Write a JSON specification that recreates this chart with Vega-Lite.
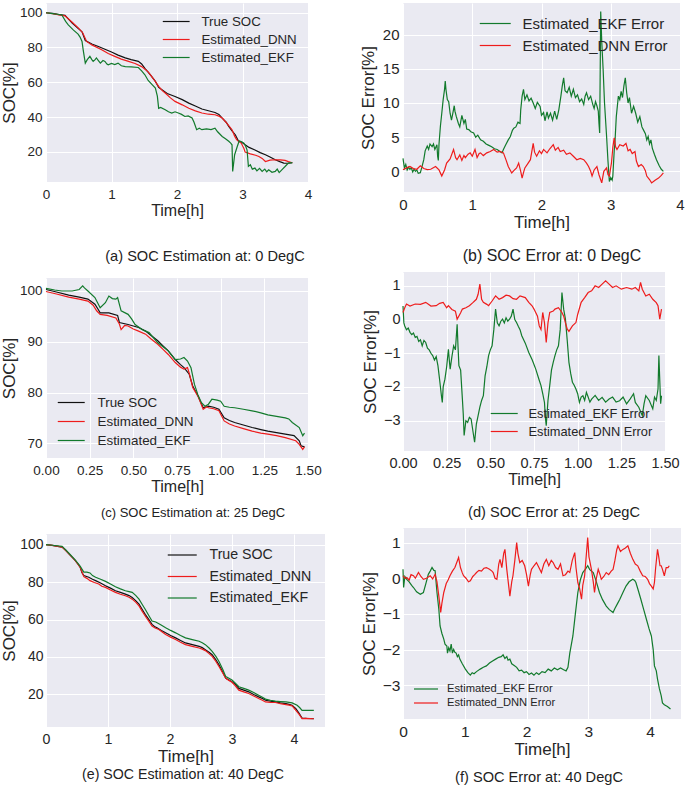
{
"$schema": "https://vega.github.io/schema/vega-lite/v6.json",
"padding": {"left": 0, "top": 3, "right": 0, "bottom": 0},
"background": "white",
"config": {
  "font": "Liberation Sans",
  "view": {"fill": "#EAEAF2", "stroke": null},
  "axis": {"domain": false, "ticks": false, "tickSize": 0, "gridColor": "#ffffff", "gridWidth": 1, "gridOpacity": 1, "labelColor": "#262626", "titleColor": "#262626", "labelFont": "Liberation Sans", "titleFont": "Liberation Sans", "titleFontWeight": "normal", "labelFlush": false, "labelOverlap": false},
  "legend": {"labelColor": "#262626", "labelFont": "Liberation Sans", "symbolStrokeWidth": 1.5, "padding": 0},
  "line": {"strokeWidth": 1.2, "clip": true},
  "title": {"color": "#222222", "fontWeight": "normal", "font": "Liberation Sans"}
},
"datasets": {
"a": [
{"s":"True SOC","t":0,"v":100},{"s":"True SOC","t":0.1,"v":99.6},{"s":"True SOC","t":0.2,"v":98.9},{"s":"True SOC","t":0.29,"v":98.5},{"s":"True SOC","t":0.4,"v":94},{"s":"True SOC","t":0.55,"v":89},{"s":"True SOC","t":0.6,"v":84},{"s":"True SOC","t":0.7,"v":82},{"s":"True SOC","t":0.8,"v":80.6},{"s":"True SOC","t":0.9,"v":79},{"s":"True SOC","t":1.0,"v":77.4},{"s":"True SOC","t":1.1,"v":75.6},{"s":"True SOC","t":1.21,"v":74},{"s":"True SOC","t":1.3,"v":73},{"s":"True SOC","t":1.41,"v":72},{"s":"True SOC","t":1.46,"v":70.5},{"s":"True SOC","t":1.51,"v":68},{"s":"True SOC","t":1.6,"v":64},{"s":"True SOC","t":1.67,"v":60.5},{"s":"True SOC","t":1.72,"v":57},{"s":"True SOC","t":1.77,"v":55.7},{"s":"True SOC","t":1.85,"v":53.5},{"s":"True SOC","t":1.97,"v":51.8},{"s":"True SOC","t":2.08,"v":50},{"s":"True SOC","t":2.18,"v":48},{"s":"True SOC","t":2.28,"v":46.3},{"s":"True SOC","t":2.38,"v":44.6},{"s":"True SOC","t":2.48,"v":43.6},{"s":"True SOC","t":2.58,"v":42.6},{"s":"True SOC","t":2.64,"v":41.5},{"s":"True SOC","t":2.69,"v":39.4},{"s":"True SOC","t":2.75,"v":37},{"s":"True SOC","t":2.79,"v":34.6},{"s":"True SOC","t":2.84,"v":32},{"s":"True SOC","t":2.89,"v":29.8},{"s":"True SOC","t":2.94,"v":26},{"s":"True SOC","t":2.99,"v":25.5},{"s":"True SOC","t":3.04,"v":24},{"s":"True SOC","t":3.1,"v":22.5},{"s":"True SOC","t":3.19,"v":21},{"s":"True SOC","t":3.27,"v":19.5},{"s":"True SOC","t":3.35,"v":18.3},{"s":"True SOC","t":3.42,"v":17},{"s":"True SOC","t":3.5,"v":15.4},{"s":"True SOC","t":3.57,"v":14.3},{"s":"True SOC","t":3.63,"v":13.5},{"s":"True SOC","t":3.7,"v":13.4},{"s":"True SOC","t":3.76,"v":13.7},
{"s":"Estimated_DNN","t":0,"v":100},{"s":"Estimated_DNN","t":0.1,"v":99.4},{"s":"Estimated_DNN","t":0.2,"v":98.8},{"s":"Estimated_DNN","t":0.29,"v":98.2},{"s":"Estimated_DNN","t":0.4,"v":94.5},{"s":"Estimated_DNN","t":0.5,"v":91},{"s":"Estimated_DNN","t":0.56,"v":88.5},{"s":"Estimated_DNN","t":0.62,"v":83.5},{"s":"Estimated_DNN","t":0.7,"v":81.5},{"s":"Estimated_DNN","t":0.85,"v":78.7},{"s":"Estimated_DNN","t":0.95,"v":76.5},{"s":"Estimated_DNN","t":1.05,"v":74.9},{"s":"Estimated_DNN","t":1.15,"v":73.3},{"s":"Estimated_DNN","t":1.26,"v":72},{"s":"Estimated_DNN","t":1.36,"v":70.8},{"s":"Estimated_DNN","t":1.46,"v":69},{"s":"Estimated_DNN","t":1.56,"v":66},{"s":"Estimated_DNN","t":1.64,"v":62},{"s":"Estimated_DNN","t":1.72,"v":57.6},{"s":"Estimated_DNN","t":1.78,"v":55},{"s":"Estimated_DNN","t":1.82,"v":53.8},{"s":"Estimated_DNN","t":1.9,"v":51},{"s":"Estimated_DNN","t":1.97,"v":49},{"s":"Estimated_DNN","t":2.08,"v":47},{"s":"Estimated_DNN","t":2.18,"v":45},{"s":"Estimated_DNN","t":2.28,"v":43.5},{"s":"Estimated_DNN","t":2.38,"v":42.3},{"s":"Estimated_DNN","t":2.48,"v":41.6},{"s":"Estimated_DNN","t":2.58,"v":41.3},{"s":"Estimated_DNN","t":2.64,"v":40.5},{"s":"Estimated_DNN","t":2.69,"v":39.4},{"s":"Estimated_DNN","t":2.76,"v":36.5},{"s":"Estimated_DNN","t":2.84,"v":32.7},{"s":"Estimated_DNN","t":2.88,"v":29},{"s":"Estimated_DNN","t":2.91,"v":27},{"s":"Estimated_DNN","t":2.94,"v":26},{"s":"Estimated_DNN","t":2.98,"v":25},{"s":"Estimated_DNN","t":3.02,"v":22},{"s":"Estimated_DNN","t":3.04,"v":19.8},{"s":"Estimated_DNN","t":3.12,"v":18.8},{"s":"Estimated_DNN","t":3.2,"v":18},{"s":"Estimated_DNN","t":3.25,"v":17.3},{"s":"Estimated_DNN","t":3.3,"v":16.2},{"s":"Estimated_DNN","t":3.35,"v":14.4},{"s":"Estimated_DNN","t":3.42,"v":15.2},{"s":"Estimated_DNN","t":3.5,"v":15.4},{"s":"Estimated_DNN","t":3.58,"v":15.3},{"s":"Estimated_DNN","t":3.65,"v":15},{"s":"Estimated_DNN","t":3.7,"v":14.3},{"s":"Estimated_DNN","t":3.76,"v":13.7},
{"s":"Estimated_EKF","t":0,"v":100},{"s":"Estimated_EKF","t":0.1,"v":99.5},{"s":"Estimated_EKF","t":0.2,"v":99},{"s":"Estimated_EKF","t":0.24,"v":98.8},{"s":"Estimated_EKF","t":0.3,"v":95},{"s":"Estimated_EKF","t":0.34,"v":93},{"s":"Estimated_EKF","t":0.42,"v":90},{"s":"Estimated_EKF","t":0.49,"v":87.7},{"s":"Estimated_EKF","t":0.52,"v":86},{"s":"Estimated_EKF","t":0.55,"v":83.5},{"s":"Estimated_EKF","t":0.57,"v":78},{"s":"Estimated_EKF","t":0.6,"v":71},{"s":"Estimated_EKF","t":0.63,"v":73},{"s":"Estimated_EKF","t":0.67,"v":74.9},{"s":"Estimated_EKF","t":0.7,"v":73},{"s":"Estimated_EKF","t":0.72,"v":72},{"s":"Estimated_EKF","t":0.75,"v":73},{"s":"Estimated_EKF","t":0.77,"v":74},{"s":"Estimated_EKF","t":0.8,"v":72.5},{"s":"Estimated_EKF","t":0.83,"v":71},{"s":"Estimated_EKF","t":0.87,"v":72.5},{"s":"Estimated_EKF","t":0.9,"v":72},{"s":"Estimated_EKF","t":0.93,"v":70.5},{"s":"Estimated_EKF","t":0.95,"v":70},{"s":"Estimated_EKF","t":1.0,"v":70.8},{"s":"Estimated_EKF","t":1.05,"v":70.2},{"s":"Estimated_EKF","t":1.1,"v":71},{"s":"Estimated_EKF","t":1.15,"v":69.5},{"s":"Estimated_EKF","t":1.21,"v":69},{"s":"Estimated_EKF","t":1.3,"v":68.8},{"s":"Estimated_EKF","t":1.41,"v":68.5},{"s":"Estimated_EKF","t":1.46,"v":66.5},{"s":"Estimated_EKF","t":1.51,"v":64.3},{"s":"Estimated_EKF","t":1.56,"v":61},{"s":"Estimated_EKF","t":1.62,"v":58.6},{"s":"Estimated_EKF","t":1.67,"v":56.6},{"s":"Estimated_EKF","t":1.7,"v":52},{"s":"Estimated_EKF","t":1.72,"v":45},{"s":"Estimated_EKF","t":1.75,"v":45.5},{"s":"Estimated_EKF","t":1.82,"v":44.2},{"s":"Estimated_EKF","t":1.87,"v":43},{"s":"Estimated_EKF","t":1.92,"v":42.3},{"s":"Estimated_EKF","t":1.97,"v":43},{"s":"Estimated_EKF","t":2.02,"v":42.3},{"s":"Estimated_EKF","t":2.07,"v":41.5},{"s":"Estimated_EKF","t":2.12,"v":40.3},{"s":"Estimated_EKF","t":2.17,"v":40.6},{"s":"Estimated_EKF","t":2.23,"v":39.4},{"s":"Estimated_EKF","t":2.26,"v":37},{"s":"Estimated_EKF","t":2.3,"v":32.7},{"s":"Estimated_EKF","t":2.34,"v":33.5},{"s":"Estimated_EKF","t":2.38,"v":32.7},{"s":"Estimated_EKF","t":2.45,"v":33.2},{"s":"Estimated_EKF","t":2.52,"v":32.8},{"s":"Estimated_EKF","t":2.58,"v":33.6},{"s":"Estimated_EKF","t":2.62,"v":31.5},{"s":"Estimated_EKF","t":2.69,"v":28.8},{"s":"Estimated_EKF","t":2.74,"v":27.5},{"s":"Estimated_EKF","t":2.79,"v":26},{"s":"Estimated_EKF","t":2.82,"v":25},{"s":"Estimated_EKF","t":2.84,"v":24},{"s":"Estimated_EKF","t":2.85,"v":8.7},{"s":"Estimated_EKF","t":2.88,"v":18.3},{"s":"Estimated_EKF","t":2.92,"v":23},{"s":"Estimated_EKF","t":2.95,"v":26.3},{"s":"Estimated_EKF","t":3.0,"v":25.5},{"s":"Estimated_EKF","t":3.02,"v":25},{"s":"Estimated_EKF","t":3.05,"v":23},{"s":"Estimated_EKF","t":3.07,"v":21},{"s":"Estimated_EKF","t":3.09,"v":11.6},{"s":"Estimated_EKF","t":3.12,"v":12.5},{"s":"Estimated_EKF","t":3.15,"v":10},{"s":"Estimated_EKF","t":3.19,"v":10.6},{"s":"Estimated_EKF","t":3.22,"v":9},{"s":"Estimated_EKF","t":3.26,"v":10.5},{"s":"Estimated_EKF","t":3.3,"v":8.7},{"s":"Estimated_EKF","t":3.34,"v":10},{"s":"Estimated_EKF","t":3.37,"v":8.5},{"s":"Estimated_EKF","t":3.4,"v":9.6},{"s":"Estimated_EKF","t":3.45,"v":8.2},{"s":"Estimated_EKF","t":3.5,"v":8.7},{"s":"Estimated_EKF","t":3.53,"v":10},{"s":"Estimated_EKF","t":3.56,"v":8},{"s":"Estimated_EKF","t":3.6,"v":9.6},{"s":"Estimated_EKF","t":3.65,"v":11.5},{"s":"Estimated_EKF","t":3.7,"v":13.5},{"s":"Estimated_EKF","t":3.76,"v":13.7}
],
"b": [
{"s":"Estimated_EKF Error","t":0,"v":1.9},{"s":"Estimated_EKF Error","t":0.02,"v":0.5},{"s":"Estimated_EKF Error","t":0.04,"v":1.0},{"s":"Estimated_EKF Error","t":0.06,"v":0.2},{"s":"Estimated_EKF Error","t":0.08,"v":0.6},{"s":"Estimated_EKF Error","t":0.1,"v":0.3},{"s":"Estimated_EKF Error","t":0.12,"v":0.5},{"s":"Estimated_EKF Error","t":0.14,"v":-0.1},{"s":"Estimated_EKF Error","t":0.16,"v":0.3},{"s":"Estimated_EKF Error","t":0.18,"v":0},{"s":"Estimated_EKF Error","t":0.2,"v":0.2},{"s":"Estimated_EKF Error","t":0.22,"v":-0.3},{"s":"Estimated_EKF Error","t":0.25,"v":-0.2},{"s":"Estimated_EKF Error","t":0.27,"v":0.5},{"s":"Estimated_EKF Error","t":0.3,"v":1.7},{"s":"Estimated_EKF Error","t":0.32,"v":3.0},{"s":"Estimated_EKF Error","t":0.35,"v":3.7},{"s":"Estimated_EKF Error","t":0.37,"v":3.2},{"s":"Estimated_EKF Error","t":0.39,"v":4.0},{"s":"Estimated_EKF Error","t":0.42,"v":3.6},{"s":"Estimated_EKF Error","t":0.44,"v":4.0},{"s":"Estimated_EKF Error","t":0.46,"v":3.2},{"s":"Estimated_EKF Error","t":0.49,"v":3.9},{"s":"Estimated_EKF Error","t":0.5,"v":2.2},{"s":"Estimated_EKF Error","t":0.51,"v":1.6},{"s":"Estimated_EKF Error","t":0.52,"v":4},{"s":"Estimated_EKF Error","t":0.54,"v":6.6},{"s":"Estimated_EKF Error","t":0.56,"v":8.5},{"s":"Estimated_EKF Error","t":0.58,"v":10.5},{"s":"Estimated_EKF Error","t":0.6,"v":12},{"s":"Estimated_EKF Error","t":0.61,"v":13.2},{"s":"Estimated_EKF Error","t":0.62,"v":12},{"s":"Estimated_EKF Error","t":0.64,"v":10.5},{"s":"Estimated_EKF Error","t":0.66,"v":10.2},{"s":"Estimated_EKF Error","t":0.68,"v":8.5},{"s":"Estimated_EKF Error","t":0.7,"v":7.5},{"s":"Estimated_EKF Error","t":0.72,"v":8.5},{"s":"Estimated_EKF Error","t":0.74,"v":9.6},{"s":"Estimated_EKF Error","t":0.75,"v":8.8},{"s":"Estimated_EKF Error","t":0.77,"v":8},{"s":"Estimated_EKF Error","t":0.8,"v":7},{"s":"Estimated_EKF Error","t":0.82,"v":6.5},{"s":"Estimated_EKF Error","t":0.85,"v":8.2},{"s":"Estimated_EKF Error","t":0.88,"v":7},{"s":"Estimated_EKF Error","t":0.9,"v":7.6},{"s":"Estimated_EKF Error","t":0.92,"v":6.2},{"s":"Estimated_EKF Error","t":0.95,"v":6.1},{"s":"Estimated_EKF Error","t":0.98,"v":5.8},{"s":"Estimated_EKF Error","t":1.02,"v":5.6},{"s":"Estimated_EKF Error","t":1.05,"v":5.0},{"s":"Estimated_EKF Error","t":1.08,"v":5.3},{"s":"Estimated_EKF Error","t":1.12,"v":4.6},{"s":"Estimated_EKF Error","t":1.16,"v":4.4},{"s":"Estimated_EKF Error","t":1.2,"v":4.0},{"s":"Estimated_EKF Error","t":1.24,"v":3.8},{"s":"Estimated_EKF Error","t":1.28,"v":3.6},{"s":"Estimated_EKF Error","t":1.32,"v":3.3},{"s":"Estimated_EKF Error","t":1.36,"v":3.2},{"s":"Estimated_EKF Error","t":1.4,"v":2.9},{"s":"Estimated_EKF Error","t":1.43,"v":2.7},{"s":"Estimated_EKF Error","t":1.45,"v":3.2},{"s":"Estimated_EKF Error","t":1.48,"v":3.8},{"s":"Estimated_EKF Error","t":1.52,"v":4.6},{"s":"Estimated_EKF Error","t":1.55,"v":5.1},{"s":"Estimated_EKF Error","t":1.58,"v":6},{"s":"Estimated_EKF Error","t":1.6,"v":6.3},{"s":"Estimated_EKF Error","t":1.63,"v":6.5},{"s":"Estimated_EKF Error","t":1.66,"v":7.2},{"s":"Estimated_EKF Error","t":1.69,"v":7.0},{"s":"Estimated_EKF Error","t":1.7,"v":9},{"s":"Estimated_EKF Error","t":1.72,"v":11},{"s":"Estimated_EKF Error","t":1.74,"v":12},{"s":"Estimated_EKF Error","t":1.76,"v":10.5},{"s":"Estimated_EKF Error","t":1.79,"v":11.2},{"s":"Estimated_EKF Error","t":1.82,"v":10.3},{"s":"Estimated_EKF Error","t":1.85,"v":10.7},{"s":"Estimated_EKF Error","t":1.88,"v":10},{"s":"Estimated_EKF Error","t":1.91,"v":9.2},{"s":"Estimated_EKF Error","t":1.94,"v":10.1},{"s":"Estimated_EKF Error","t":1.98,"v":9.5},{"s":"Estimated_EKF Error","t":2.0,"v":8.2},{"s":"Estimated_EKF Error","t":2.03,"v":8.6},{"s":"Estimated_EKF Error","t":2.05,"v":7.4},{"s":"Estimated_EKF Error","t":2.08,"v":8.7},{"s":"Estimated_EKF Error","t":2.1,"v":7.8},{"s":"Estimated_EKF Error","t":2.13,"v":8.5},{"s":"Estimated_EKF Error","t":2.16,"v":7.5},{"s":"Estimated_EKF Error","t":2.19,"v":8.8},{"s":"Estimated_EKF Error","t":2.22,"v":7.6},{"s":"Estimated_EKF Error","t":2.25,"v":9},{"s":"Estimated_EKF Error","t":2.28,"v":11},{"s":"Estimated_EKF Error","t":2.3,"v":12.5},{"s":"Estimated_EKF Error","t":2.32,"v":13.7},{"s":"Estimated_EKF Error","t":2.34,"v":11.8},{"s":"Estimated_EKF Error","t":2.37,"v":11.5},{"s":"Estimated_EKF Error","t":2.4,"v":12.3},{"s":"Estimated_EKF Error","t":2.43,"v":11},{"s":"Estimated_EKF Error","t":2.46,"v":12},{"s":"Estimated_EKF Error","t":2.49,"v":10.8},{"s":"Estimated_EKF Error","t":2.52,"v":11.2},{"s":"Estimated_EKF Error","t":2.55,"v":10.2},{"s":"Estimated_EKF Error","t":2.58,"v":10.6},{"s":"Estimated_EKF Error","t":2.61,"v":9.8},{"s":"Estimated_EKF Error","t":2.63,"v":11},{"s":"Estimated_EKF Error","t":2.65,"v":11.5},{"s":"Estimated_EKF Error","t":2.68,"v":10.5},{"s":"Estimated_EKF Error","t":2.71,"v":11},{"s":"Estimated_EKF Error","t":2.74,"v":9.8},{"s":"Estimated_EKF Error","t":2.76,"v":9.2},{"s":"Estimated_EKF Error","t":2.78,"v":10.2},{"s":"Estimated_EKF Error","t":2.8,"v":9.6},{"s":"Estimated_EKF Error","t":2.82,"v":8.8},{"s":"Estimated_EKF Error","t":2.83,"v":7},{"s":"Estimated_EKF Error","t":2.84,"v":5.6},{"s":"Estimated_EKF Error","t":2.855,"v":23.4},{"s":"Estimated_EKF Error","t":2.87,"v":19},{"s":"Estimated_EKF Error","t":2.89,"v":14.9},{"s":"Estimated_EKF Error","t":2.91,"v":10},{"s":"Estimated_EKF Error","t":2.94,"v":5.1},{"s":"Estimated_EKF Error","t":2.96,"v":1.5},{"s":"Estimated_EKF Error","t":2.98,"v":-1.5},{"s":"Estimated_EKF Error","t":3.0,"v":-0.9},{"s":"Estimated_EKF Error","t":3.02,"v":-1.3},{"s":"Estimated_EKF Error","t":3.03,"v":-0.7},{"s":"Estimated_EKF Error","t":3.05,"v":3},{"s":"Estimated_EKF Error","t":3.06,"v":4.1},{"s":"Estimated_EKF Error","t":3.08,"v":8},{"s":"Estimated_EKF Error","t":3.11,"v":11},{"s":"Estimated_EKF Error","t":3.13,"v":10.5},{"s":"Estimated_EKF Error","t":3.15,"v":11.7},{"s":"Estimated_EKF Error","t":3.17,"v":10.8},{"s":"Estimated_EKF Error","t":3.19,"v":12.5},{"s":"Estimated_EKF Error","t":3.21,"v":13.7},{"s":"Estimated_EKF Error","t":3.23,"v":11.5},{"s":"Estimated_EKF Error","t":3.25,"v":10},{"s":"Estimated_EKF Error","t":3.27,"v":10.8},{"s":"Estimated_EKF Error","t":3.3,"v":8.5},{"s":"Estimated_EKF Error","t":3.33,"v":9.5},{"s":"Estimated_EKF Error","t":3.36,"v":8.5},{"s":"Estimated_EKF Error","t":3.39,"v":7.2},{"s":"Estimated_EKF Error","t":3.42,"v":8},{"s":"Estimated_EKF Error","t":3.45,"v":6.5},{"s":"Estimated_EKF Error","t":3.47,"v":6.1},{"s":"Estimated_EKF Error","t":3.5,"v":5.5},{"s":"Estimated_EKF Error","t":3.52,"v":4.6},{"s":"Estimated_EKF Error","t":3.54,"v":5.1},{"s":"Estimated_EKF Error","t":3.56,"v":4.0},{"s":"Estimated_EKF Error","t":3.58,"v":4.6},{"s":"Estimated_EKF Error","t":3.6,"v":3.4},{"s":"Estimated_EKF Error","t":3.63,"v":2.5},{"s":"Estimated_EKF Error","t":3.66,"v":1.7},{"s":"Estimated_EKF Error","t":3.7,"v":0.8},{"s":"Estimated_EKF Error","t":3.73,"v":0.3},{"s":"Estimated_EKF Error","t":3.76,"v":0},
{"s":"Estimated_DNN Error","t":0,"v":0.24},{"s":"Estimated_DNN Error","t":0.05,"v":0.5},{"s":"Estimated_DNN Error","t":0.1,"v":0.7},{"s":"Estimated_DNN Error","t":0.15,"v":0.4},{"s":"Estimated_DNN Error","t":0.2,"v":0.3},{"s":"Estimated_DNN Error","t":0.25,"v":0.8},{"s":"Estimated_DNN Error","t":0.3,"v":0.4},{"s":"Estimated_DNN Error","t":0.35,"v":0.24},{"s":"Estimated_DNN Error","t":0.4,"v":0.3},{"s":"Estimated_DNN Error","t":0.47,"v":0.7},{"s":"Estimated_DNN Error","t":0.52,"v":0.2},{"s":"Estimated_DNN Error","t":0.56,"v":-0.7},{"s":"Estimated_DNN Error","t":0.6,"v":0.2},{"s":"Estimated_DNN Error","t":0.63,"v":1.2},{"s":"Estimated_DNN Error","t":0.68,"v":1.8},{"s":"Estimated_DNN Error","t":0.73,"v":3.2},{"s":"Estimated_DNN Error","t":0.76,"v":2.0},{"s":"Estimated_DNN Error","t":0.78,"v":1.7},{"s":"Estimated_DNN Error","t":0.82,"v":2.4},{"s":"Estimated_DNN Error","t":0.85,"v":1.6},{"s":"Estimated_DNN Error","t":0.88,"v":2.3},{"s":"Estimated_DNN Error","t":0.9,"v":2.0},{"s":"Estimated_DNN Error","t":0.94,"v":2.5},{"s":"Estimated_DNN Error","t":0.97,"v":2.7},{"s":"Estimated_DNN Error","t":1.0,"v":2.2},{"s":"Estimated_DNN Error","t":1.04,"v":3.2},{"s":"Estimated_DNN Error","t":1.07,"v":2.0},{"s":"Estimated_DNN Error","t":1.1,"v":2.6},{"s":"Estimated_DNN Error","t":1.12,"v":2.7},{"s":"Estimated_DNN Error","t":1.16,"v":2.3},{"s":"Estimated_DNN Error","t":1.21,"v":2.7},{"s":"Estimated_DNN Error","t":1.26,"v":2.9},{"s":"Estimated_DNN Error","t":1.31,"v":3.2},{"s":"Estimated_DNN Error","t":1.36,"v":2.8},{"s":"Estimated_DNN Error","t":1.4,"v":2.9},{"s":"Estimated_DNN Error","t":1.45,"v":2.7},{"s":"Estimated_DNN Error","t":1.49,"v":1.6},{"s":"Estimated_DNN Error","t":1.52,"v":0.7},{"s":"Estimated_DNN Error","t":1.57,"v":-0.24},{"s":"Estimated_DNN Error","t":1.6,"v":0.1},{"s":"Estimated_DNN Error","t":1.64,"v":0.5},{"s":"Estimated_DNN Error","t":1.67,"v":1.2},{"s":"Estimated_DNN Error","t":1.7,"v":0},{"s":"Estimated_DNN Error","t":1.72,"v":-1},{"s":"Estimated_DNN Error","t":1.74,"v":-0.2},{"s":"Estimated_DNN Error","t":1.76,"v":0.5},{"s":"Estimated_DNN Error","t":1.8,"v":1.1},{"s":"Estimated_DNN Error","t":1.84,"v":1.7},{"s":"Estimated_DNN Error","t":1.88,"v":4.1},{"s":"Estimated_DNN Error","t":1.9,"v":2.8},{"s":"Estimated_DNN Error","t":1.93,"v":2.2},{"s":"Estimated_DNN Error","t":1.97,"v":3.0},{"s":"Estimated_DNN Error","t":2.0,"v":2.6},{"s":"Estimated_DNN Error","t":2.03,"v":3.2},{"s":"Estimated_DNN Error","t":2.08,"v":2.7},{"s":"Estimated_DNN Error","t":2.12,"v":3.3},{"s":"Estimated_DNN Error","t":2.17,"v":3.9},{"s":"Estimated_DNN Error","t":2.2,"v":3.1},{"s":"Estimated_DNN Error","t":2.24,"v":3.5},{"s":"Estimated_DNN Error","t":2.27,"v":2.9},{"s":"Estimated_DNN Error","t":2.32,"v":3.1},{"s":"Estimated_DNN Error","t":2.36,"v":2.5},{"s":"Estimated_DNN Error","t":2.41,"v":2.7},{"s":"Estimated_DNN Error","t":2.46,"v":2.2},{"s":"Estimated_DNN Error","t":2.51,"v":1.7},{"s":"Estimated_DNN Error","t":2.56,"v":1.9},{"s":"Estimated_DNN Error","t":2.61,"v":1.7},{"s":"Estimated_DNN Error","t":2.65,"v":1.2},{"s":"Estimated_DNN Error","t":2.68,"v":0.7},{"s":"Estimated_DNN Error","t":2.71,"v":0},{"s":"Estimated_DNN Error","t":2.73,"v":-0.7},{"s":"Estimated_DNN Error","t":2.76,"v":0.2},{"s":"Estimated_DNN Error","t":2.8,"v":0.7},{"s":"Estimated_DNN Error","t":2.83,"v":-0.5},{"s":"Estimated_DNN Error","t":2.87,"v":-1.7},{"s":"Estimated_DNN Error","t":2.9,"v":0},{"s":"Estimated_DNN Error","t":2.94,"v":0.5},{"s":"Estimated_DNN Error","t":2.96,"v":-0.5},{"s":"Estimated_DNN Error","t":2.98,"v":-0.7},{"s":"Estimated_DNN Error","t":3.01,"v":1.2},{"s":"Estimated_DNN Error","t":3.03,"v":3.5},{"s":"Estimated_DNN Error","t":3.05,"v":4.9},{"s":"Estimated_DNN Error","t":3.07,"v":3.6},{"s":"Estimated_DNN Error","t":3.09,"v":3.2},{"s":"Estimated_DNN Error","t":3.13,"v":3.9},{"s":"Estimated_DNN Error","t":3.18,"v":3.7},{"s":"Estimated_DNN Error","t":3.22,"v":4.1},{"s":"Estimated_DNN Error","t":3.25,"v":3.0},{"s":"Estimated_DNN Error","t":3.28,"v":3.2},{"s":"Estimated_DNN Error","t":3.31,"v":2.6},{"s":"Estimated_DNN Error","t":3.35,"v":2.9},{"s":"Estimated_DNN Error","t":3.37,"v":1.5},{"s":"Estimated_DNN Error","t":3.4,"v":0.7},{"s":"Estimated_DNN Error","t":3.44,"v":1.0},{"s":"Estimated_DNN Error","t":3.47,"v":0.7},{"s":"Estimated_DNN Error","t":3.5,"v":0.1},{"s":"Estimated_DNN Error","t":3.52,"v":-0.7},{"s":"Estimated_DNN Error","t":3.56,"v":-1.2},{"s":"Estimated_DNN Error","t":3.59,"v":-1.7},{"s":"Estimated_DNN Error","t":3.64,"v":-1.3},{"s":"Estimated_DNN Error","t":3.69,"v":-1.0},{"s":"Estimated_DNN Error","t":3.73,"v":-0.6},{"s":"Estimated_DNN Error","t":3.76,"v":-0.24}
],
"c": [
{"s":"True SOC","t":0,"v":100.3},{"s":"True SOC","t":0.06,"v":99.8},{"s":"True SOC","t":0.13,"v":99.2},{"s":"True SOC","t":0.19,"v":98.8},{"s":"True SOC","t":0.24,"v":98.4},{"s":"True SOC","t":0.28,"v":97.4},{"s":"True SOC","t":0.3,"v":96.3},{"s":"True SOC","t":0.31,"v":95.7},{"s":"True SOC","t":0.36,"v":95.7},{"s":"True SOC","t":0.41,"v":95.2},{"s":"True SOC","t":0.42,"v":93.8},{"s":"True SOC","t":0.47,"v":93.4},{"s":"True SOC","t":0.53,"v":92.8},{"s":"True SOC","t":0.57,"v":92.1},{"s":"True SOC","t":0.6,"v":91.3},{"s":"True SOC","t":0.64,"v":90.2},{"s":"True SOC","t":0.67,"v":89.2},{"s":"True SOC","t":0.7,"v":88.2},{"s":"True SOC","t":0.74,"v":86.5},{"s":"True SOC","t":0.77,"v":85.5},{"s":"True SOC","t":0.79,"v":84.9},{"s":"True SOC","t":0.82,"v":83.6},{"s":"True SOC","t":0.84,"v":81.3},{"s":"True SOC","t":0.87,"v":79.3},{"s":"True SOC","t":0.9,"v":77},{"s":"True SOC","t":0.93,"v":77.3},{"s":"True SOC","t":0.96,"v":77.1},{"s":"True SOC","t":0.99,"v":76.7},{"s":"True SOC","t":1.02,"v":75},{"s":"True SOC","t":1.05,"v":74.5},{"s":"True SOC","t":1.08,"v":74.1},{"s":"True SOC","t":1.13,"v":73.6},{"s":"True SOC","t":1.18,"v":73.1},{"s":"True SOC","t":1.23,"v":72.7},{"s":"True SOC","t":1.27,"v":72.4},{"s":"True SOC","t":1.32,"v":72.1},{"s":"True SOC","t":1.37,"v":71.8},{"s":"True SOC","t":1.42,"v":71.5},{"s":"True SOC","t":1.45,"v":70.5},{"s":"True SOC","t":1.46,"v":69.5},{"s":"True SOC","t":1.48,"v":69.3},
{"s":"Estimated_DNN","t":0,"v":99.9},{"s":"Estimated_DNN","t":0.06,"v":99.4},{"s":"Estimated_DNN","t":0.13,"v":98.8},{"s":"Estimated_DNN","t":0.19,"v":98.4},{"s":"Estimated_DNN","t":0.24,"v":98},{"s":"Estimated_DNN","t":0.27,"v":97.2},{"s":"Estimated_DNN","t":0.29,"v":96.1},{"s":"Estimated_DNN","t":0.31,"v":95.4},{"s":"Estimated_DNN","t":0.35,"v":95.2},{"s":"Estimated_DNN","t":0.4,"v":94.7},{"s":"Estimated_DNN","t":0.42,"v":93.5},{"s":"Estimated_DNN","t":0.43,"v":92.4},{"s":"Estimated_DNN","t":0.45,"v":93.2},{"s":"Estimated_DNN","t":0.47,"v":93.1},{"s":"Estimated_DNN","t":0.5,"v":92.5},{"s":"Estimated_DNN","t":0.53,"v":92.1},{"s":"Estimated_DNN","t":0.57,"v":91.5},{"s":"Estimated_DNN","t":0.6,"v":90.6},{"s":"Estimated_DNN","t":0.64,"v":89.5},{"s":"Estimated_DNN","t":0.67,"v":88.5},{"s":"Estimated_DNN","t":0.7,"v":87.5},{"s":"Estimated_DNN","t":0.74,"v":85.9},{"s":"Estimated_DNN","t":0.77,"v":85.0},{"s":"Estimated_DNN","t":0.79,"v":84.6},{"s":"Estimated_DNN","t":0.81,"v":84.9},{"s":"Estimated_DNN","t":0.82,"v":83.8},{"s":"Estimated_DNN","t":0.84,"v":81},{"s":"Estimated_DNN","t":0.87,"v":79.3},{"s":"Estimated_DNN","t":0.9,"v":76.7},{"s":"Estimated_DNN","t":0.92,"v":77.2},{"s":"Estimated_DNN","t":0.93,"v":77},{"s":"Estimated_DNN","t":0.96,"v":76.8},{"s":"Estimated_DNN","t":0.99,"v":76.4},{"s":"Estimated_DNN","t":1.02,"v":74.4},{"s":"Estimated_DNN","t":1.05,"v":73.8},{"s":"Estimated_DNN","t":1.08,"v":73.4},{"s":"Estimated_DNN","t":1.13,"v":72.9},{"s":"Estimated_DNN","t":1.18,"v":72.4},{"s":"Estimated_DNN","t":1.23,"v":72.0},{"s":"Estimated_DNN","t":1.27,"v":71.8},{"s":"Estimated_DNN","t":1.32,"v":71.5},{"s":"Estimated_DNN","t":1.37,"v":71.1},{"s":"Estimated_DNN","t":1.43,"v":70.5},{"s":"Estimated_DNN","t":1.45,"v":69.8},{"s":"Estimated_DNN","t":1.47,"v":68.8},{"s":"Estimated_DNN","t":1.48,"v":69.3},
{"s":"Estimated_EKF","t":0,"v":100.5},{"s":"Estimated_EKF","t":0.05,"v":100.2},{"s":"Estimated_EKF","t":0.09,"v":100},{"s":"Estimated_EKF","t":0.15,"v":100},{"s":"Estimated_EKF","t":0.19,"v":100.3},{"s":"Estimated_EKF","t":0.21,"v":101},{"s":"Estimated_EKF","t":0.22,"v":100.6},{"s":"Estimated_EKF","t":0.24,"v":100},{"s":"Estimated_EKF","t":0.28,"v":98.7},{"s":"Estimated_EKF","t":0.31,"v":96.7},{"s":"Estimated_EKF","t":0.34,"v":97.7},{"s":"Estimated_EKF","t":0.36,"v":99},{"s":"Estimated_EKF","t":0.38,"v":98.5},{"s":"Estimated_EKF","t":0.4,"v":98.4},{"s":"Estimated_EKF","t":0.41,"v":98.7},{"s":"Estimated_EKF","t":0.43,"v":96.1},{"s":"Estimated_EKF","t":0.47,"v":95.4},{"s":"Estimated_EKF","t":0.49,"v":94.5},{"s":"Estimated_EKF","t":0.51,"v":93.4},{"s":"Estimated_EKF","t":0.55,"v":92.4},{"s":"Estimated_EKF","t":0.59,"v":91.8},{"s":"Estimated_EKF","t":0.64,"v":89.8},{"s":"Estimated_EKF","t":0.67,"v":89.0},{"s":"Estimated_EKF","t":0.7,"v":88.2},{"s":"Estimated_EKF","t":0.74,"v":86.5},{"s":"Estimated_EKF","t":0.77,"v":86.6},{"s":"Estimated_EKF","t":0.79,"v":86.9},{"s":"Estimated_EKF","t":0.81,"v":86.2},{"s":"Estimated_EKF","t":0.83,"v":84.9},{"s":"Estimated_EKF","t":0.85,"v":81.6},{"s":"Estimated_EKF","t":0.87,"v":79.5},{"s":"Estimated_EKF","t":0.89,"v":78},{"s":"Estimated_EKF","t":0.91,"v":77.3},{"s":"Estimated_EKF","t":0.93,"v":77.7},{"s":"Estimated_EKF","t":0.95,"v":78.7},{"s":"Estimated_EKF","t":0.98,"v":78.5},{"s":"Estimated_EKF","t":1.0,"v":78.3},{"s":"Estimated_EKF","t":1.02,"v":77.3},{"s":"Estimated_EKF","t":1.05,"v":77.1},{"s":"Estimated_EKF","t":1.08,"v":77},{"s":"Estimated_EKF","t":1.13,"v":76.7},{"s":"Estimated_EKF","t":1.18,"v":76.4},{"s":"Estimated_EKF","t":1.23,"v":76},{"s":"Estimated_EKF","t":1.27,"v":75.6},{"s":"Estimated_EKF","t":1.32,"v":75.3},{"s":"Estimated_EKF","t":1.37,"v":75},{"s":"Estimated_EKF","t":1.39,"v":74.8},{"s":"Estimated_EKF","t":1.41,"v":74.1},{"s":"Estimated_EKF","t":1.45,"v":73.1},{"s":"Estimated_EKF","t":1.47,"v":71.5},{"s":"Estimated_EKF","t":1.48,"v":72}
],
"d": [
{"s":"Estimated_EKF Error","t":0,"v":0.4},{"s":"Estimated_EKF Error","t":0.005,"v":-0.1},{"s":"Estimated_EKF Error","t":0.01,"v":-0.19},{"s":"Estimated_EKF Error","t":0.02,"v":-0.3},{"s":"Estimated_EKF Error","t":0.03,"v":-0.25},{"s":"Estimated_EKF Error","t":0.04,"v":-0.38},{"s":"Estimated_EKF Error","t":0.05,"v":-0.45},{"s":"Estimated_EKF Error","t":0.06,"v":-0.4},{"s":"Estimated_EKF Error","t":0.07,"v":-0.53},{"s":"Estimated_EKF Error","t":0.08,"v":-0.5},{"s":"Estimated_EKF Error","t":0.09,"v":-0.65},{"s":"Estimated_EKF Error","t":0.1,"v":-0.6},{"s":"Estimated_EKF Error","t":0.11,"v":-0.78},{"s":"Estimated_EKF Error","t":0.12,"v":-0.62},{"s":"Estimated_EKF Error","t":0.13,"v":-0.68},{"s":"Estimated_EKF Error","t":0.14,"v":-0.85},{"s":"Estimated_EKF Error","t":0.15,"v":-0.9},{"s":"Estimated_EKF Error","t":0.16,"v":-1.0},{"s":"Estimated_EKF Error","t":0.17,"v":-1.07},{"s":"Estimated_EKF Error","t":0.18,"v":-1.2},{"s":"Estimated_EKF Error","t":0.19,"v":-1.1},{"s":"Estimated_EKF Error","t":0.2,"v":-1.37},{"s":"Estimated_EKF Error","t":0.21,"v":-1.8},{"s":"Estimated_EKF Error","t":0.22,"v":-2.26},{"s":"Estimated_EKF Error","t":0.225,"v":-2.46},{"s":"Estimated_EKF Error","t":0.23,"v":-2.0},{"s":"Estimated_EKF Error","t":0.24,"v":-1.77},{"s":"Estimated_EKF Error","t":0.25,"v":-1.4},{"s":"Estimated_EKF Error","t":0.26,"v":-0.88},{"s":"Estimated_EKF Error","t":0.265,"v":-1.2},{"s":"Estimated_EKF Error","t":0.27,"v":-1.47},{"s":"Estimated_EKF Error","t":0.28,"v":-1.1},{"s":"Estimated_EKF Error","t":0.29,"v":-0.78},{"s":"Estimated_EKF Error","t":0.3,"v":-0.9},{"s":"Estimated_EKF Error","t":0.31,"v":-0.14},{"s":"Estimated_EKF Error","t":0.315,"v":-0.8},{"s":"Estimated_EKF Error","t":0.32,"v":-1.37},{"s":"Estimated_EKF Error","t":0.33,"v":-1.5},{"s":"Estimated_EKF Error","t":0.34,"v":-2.36},{"s":"Estimated_EKF Error","t":0.345,"v":-2.8},{"s":"Estimated_EKF Error","t":0.35,"v":-3.44},{"s":"Estimated_EKF Error","t":0.36,"v":-3.0},{"s":"Estimated_EKF Error","t":0.37,"v":-3.05},{"s":"Estimated_EKF Error","t":0.38,"v":-2.9},{"s":"Estimated_EKF Error","t":0.39,"v":-2.95},{"s":"Estimated_EKF Error","t":0.4,"v":-3.3},{"s":"Estimated_EKF Error","t":0.41,"v":-3.64},{"s":"Estimated_EKF Error","t":0.42,"v":-3.1},{"s":"Estimated_EKF Error","t":0.43,"v":-2.85},{"s":"Estimated_EKF Error","t":0.44,"v":-2.6},{"s":"Estimated_EKF Error","t":0.45,"v":-2.4},{"s":"Estimated_EKF Error","t":0.46,"v":-2.26},{"s":"Estimated_EKF Error","t":0.47,"v":-1.67},{"s":"Estimated_EKF Error","t":0.48,"v":-1.4},{"s":"Estimated_EKF Error","t":0.49,"v":-1.07},{"s":"Estimated_EKF Error","t":0.5,"v":-0.9},{"s":"Estimated_EKF Error","t":0.51,"v":-0.78},{"s":"Estimated_EKF Error","t":0.52,"v":-0.3},{"s":"Estimated_EKF Error","t":0.53,"v":0.31},{"s":"Estimated_EKF Error","t":0.54,"v":-0.1},{"s":"Estimated_EKF Error","t":0.55,"v":-0.19},{"s":"Estimated_EKF Error","t":0.56,"v":-0.05},{"s":"Estimated_EKF Error","t":0.57,"v":0.01},{"s":"Estimated_EKF Error","t":0.58,"v":-0.1},{"s":"Estimated_EKF Error","t":0.59,"v":0.05},{"s":"Estimated_EKF Error","t":0.6,"v":-0.05},{"s":"Estimated_EKF Error","t":0.61,"v":0.01},{"s":"Estimated_EKF Error","t":0.62,"v":0.1},{"s":"Estimated_EKF Error","t":0.63,"v":0.31},{"s":"Estimated_EKF Error","t":0.64,"v":0.0},{"s":"Estimated_EKF Error","t":0.65,"v":-0.09},{"s":"Estimated_EKF Error","t":0.66,"v":-0.2},{"s":"Estimated_EKF Error","t":0.67,"v":-0.3},{"s":"Estimated_EKF Error","t":0.68,"v":-0.48},{"s":"Estimated_EKF Error","t":0.7,"v":-0.7},{"s":"Estimated_EKF Error","t":0.72,"v":-0.98},{"s":"Estimated_EKF Error","t":0.74,"v":-1.2},{"s":"Estimated_EKF Error","t":0.76,"v":-1.47},{"s":"Estimated_EKF Error","t":0.78,"v":-1.8},{"s":"Estimated_EKF Error","t":0.79,"v":-1.96},{"s":"Estimated_EKF Error","t":0.8,"v":-2.2},{"s":"Estimated_EKF Error","t":0.81,"v":-2.46},{"s":"Estimated_EKF Error","t":0.815,"v":-2.9},{"s":"Estimated_EKF Error","t":0.82,"v":-3.15},{"s":"Estimated_EKF Error","t":0.83,"v":-2.4},{"s":"Estimated_EKF Error","t":0.84,"v":-1.96},{"s":"Estimated_EKF Error","t":0.85,"v":-1.5},{"s":"Estimated_EKF Error","t":0.86,"v":-1.27},{"s":"Estimated_EKF Error","t":0.87,"v":-1.07},{"s":"Estimated_EKF Error","t":0.88,"v":-0.9},{"s":"Estimated_EKF Error","t":0.89,"v":-0.78},{"s":"Estimated_EKF Error","t":0.9,"v":-0.3},{"s":"Estimated_EKF Error","t":0.91,"v":0.8},{"s":"Estimated_EKF Error","t":0.92,"v":0.3},{"s":"Estimated_EKF Error","t":0.93,"v":0.01},{"s":"Estimated_EKF Error","t":0.94,"v":-0.6},{"s":"Estimated_EKF Error","t":0.95,"v":-1.27},{"s":"Estimated_EKF Error","t":0.96,"v":-1.6},{"s":"Estimated_EKF Error","t":0.97,"v":-1.86},{"s":"Estimated_EKF Error","t":0.98,"v":-1.95},{"s":"Estimated_EKF Error","t":0.99,"v":-2.06},{"s":"Estimated_EKF Error","t":1.0,"v":-2.2},{"s":"Estimated_EKF Error","t":1.01,"v":-2.46},{"s":"Estimated_EKF Error","t":1.02,"v":-2.3},{"s":"Estimated_EKF Error","t":1.03,"v":-2.26},{"s":"Estimated_EKF Error","t":1.04,"v":-2.4},{"s":"Estimated_EKF Error","t":1.05,"v":-2.16},{"s":"Estimated_EKF Error","t":1.06,"v":-2.3},{"s":"Estimated_EKF Error","t":1.07,"v":-2.45},{"s":"Estimated_EKF Error","t":1.08,"v":-2.36},{"s":"Estimated_EKF Error","t":1.1,"v":-2.25},{"s":"Estimated_EKF Error","t":1.12,"v":-2.4},{"s":"Estimated_EKF Error","t":1.14,"v":-2.31},{"s":"Estimated_EKF Error","t":1.16,"v":-2.45},{"s":"Estimated_EKF Error","t":1.18,"v":-2.36},{"s":"Estimated_EKF Error","t":1.2,"v":-2.3},{"s":"Estimated_EKF Error","t":1.22,"v":-2.45},{"s":"Estimated_EKF Error","t":1.24,"v":-2.41},{"s":"Estimated_EKF Error","t":1.26,"v":-2.3},{"s":"Estimated_EKF Error","t":1.28,"v":-2.5},{"s":"Estimated_EKF Error","t":1.3,"v":-2.36},{"s":"Estimated_EKF Error","t":1.32,"v":-2.2},{"s":"Estimated_EKF Error","t":1.33,"v":-2.46},{"s":"Estimated_EKF Error","t":1.35,"v":-2.6},{"s":"Estimated_EKF Error","t":1.37,"v":-2.85},{"s":"Estimated_EKF Error","t":1.38,"v":-2.5},{"s":"Estimated_EKF Error","t":1.39,"v":-2.26},{"s":"Estimated_EKF Error","t":1.41,"v":-2.4},{"s":"Estimated_EKF Error","t":1.43,"v":-2.65},{"s":"Estimated_EKF Error","t":1.44,"v":-2.3},{"s":"Estimated_EKF Error","t":1.45,"v":-2.4},{"s":"Estimated_EKF Error","t":1.46,"v":-2.06},{"s":"Estimated_EKF Error","t":1.465,"v":-1.07},{"s":"Estimated_EKF Error","t":1.47,"v":-1.8},{"s":"Estimated_EKF Error","t":1.475,"v":-2.5},{"s":"Estimated_EKF Error","t":1.48,"v":-2.26},
{"s":"Estimated_DNN Error","t":0,"v":0.21},{"s":"Estimated_DNN Error","t":0.01,"v":0.35},{"s":"Estimated_DNN Error","t":0.02,"v":0.46},{"s":"Estimated_DNN Error","t":0.04,"v":0.4},{"s":"Estimated_DNN Error","t":0.07,"v":0.46},{"s":"Estimated_DNN Error","t":0.1,"v":0.45},{"s":"Estimated_DNN Error","t":0.13,"v":0.51},{"s":"Estimated_DNN Error","t":0.16,"v":0.4},{"s":"Estimated_DNN Error","t":0.19,"v":0.41},{"s":"Estimated_DNN Error","t":0.21,"v":0.48},{"s":"Estimated_DNN Error","t":0.23,"v":0.51},{"s":"Estimated_DNN Error","t":0.25,"v":0.35},{"s":"Estimated_DNN Error","t":0.26,"v":0.41},{"s":"Estimated_DNN Error","t":0.28,"v":0.3},{"s":"Estimated_DNN Error","t":0.3,"v":0.25},{"s":"Estimated_DNN Error","t":0.31,"v":0.01},{"s":"Estimated_DNN Error","t":0.33,"v":0.2},{"s":"Estimated_DNN Error","t":0.34,"v":0.31},{"s":"Estimated_DNN Error","t":0.36,"v":0.35},{"s":"Estimated_DNN Error","t":0.38,"v":0.41},{"s":"Estimated_DNN Error","t":0.4,"v":0.5},{"s":"Estimated_DNN Error","t":0.42,"v":0.6},{"s":"Estimated_DNN Error","t":0.43,"v":0.75},{"s":"Estimated_DNN Error","t":0.44,"v":1.05},{"s":"Estimated_DNN Error","t":0.45,"v":0.6},{"s":"Estimated_DNN Error","t":0.46,"v":0.51},{"s":"Estimated_DNN Error","t":0.48,"v":0.45},{"s":"Estimated_DNN Error","t":0.49,"v":0.41},{"s":"Estimated_DNN Error","t":0.51,"v":0.55},{"s":"Estimated_DNN Error","t":0.53,"v":0.7},{"s":"Estimated_DNN Error","t":0.55,"v":0.6},{"s":"Estimated_DNN Error","t":0.57,"v":0.65},{"s":"Estimated_DNN Error","t":0.59,"v":0.72},{"s":"Estimated_DNN Error","t":0.61,"v":0.7},{"s":"Estimated_DNN Error","t":0.63,"v":0.62},{"s":"Estimated_DNN Error","t":0.65,"v":0.6},{"s":"Estimated_DNN Error","t":0.67,"v":0.7},{"s":"Estimated_DNN Error","t":0.7,"v":0.65},{"s":"Estimated_DNN Error","t":0.72,"v":0.51},{"s":"Estimated_DNN Error","t":0.74,"v":0.4},{"s":"Estimated_DNN Error","t":0.75,"v":0.31},{"s":"Estimated_DNN Error","t":0.77,"v":0.1},{"s":"Estimated_DNN Error","t":0.78,"v":-0.19},{"s":"Estimated_DNN Error","t":0.79,"v":-0.3},{"s":"Estimated_DNN Error","t":0.8,"v":0.21},{"s":"Estimated_DNN Error","t":0.81,"v":-0.1},{"s":"Estimated_DNN Error","t":0.82,"v":-0.68},{"s":"Estimated_DNN Error","t":0.83,"v":-0.1},{"s":"Estimated_DNN Error","t":0.84,"v":0.21},{"s":"Estimated_DNN Error","t":0.86,"v":0.25},{"s":"Estimated_DNN Error","t":0.87,"v":0.31},{"s":"Estimated_DNN Error","t":0.89,"v":0.35},{"s":"Estimated_DNN Error","t":0.91,"v":0.21},{"s":"Estimated_DNN Error","t":0.92,"v":0.1},{"s":"Estimated_DNN Error","t":0.93,"v":-0.1},{"s":"Estimated_DNN Error","t":0.94,"v":-0.28},{"s":"Estimated_DNN Error","t":0.95,"v":-0.35},{"s":"Estimated_DNN Error","t":0.97,"v":-0.19},{"s":"Estimated_DNN Error","t":0.99,"v":-0.09},{"s":"Estimated_DNN Error","t":1.0,"v":0.15},{"s":"Estimated_DNN Error","t":1.02,"v":0.51},{"s":"Estimated_DNN Error","t":1.04,"v":0.65},{"s":"Estimated_DNN Error","t":1.06,"v":0.8},{"s":"Estimated_DNN Error","t":1.08,"v":0.85},{"s":"Estimated_DNN Error","t":1.1,"v":1.0},{"s":"Estimated_DNN Error","t":1.12,"v":0.95},{"s":"Estimated_DNN Error","t":1.14,"v":1.05},{"s":"Estimated_DNN Error","t":1.16,"v":1.15},{"s":"Estimated_DNN Error","t":1.18,"v":1.05},{"s":"Estimated_DNN Error","t":1.2,"v":0.95},{"s":"Estimated_DNN Error","t":1.22,"v":1.0},{"s":"Estimated_DNN Error","t":1.25,"v":0.9},{"s":"Estimated_DNN Error","t":1.28,"v":0.95},{"s":"Estimated_DNN Error","t":1.31,"v":0.9},{"s":"Estimated_DNN Error","t":1.33,"v":0.95},{"s":"Estimated_DNN Error","t":1.35,"v":0.85},{"s":"Estimated_DNN Error","t":1.36,"v":1.1},{"s":"Estimated_DNN Error","t":1.37,"v":0.9},{"s":"Estimated_DNN Error","t":1.39,"v":0.7},{"s":"Estimated_DNN Error","t":1.41,"v":0.75},{"s":"Estimated_DNN Error","t":1.43,"v":0.6},{"s":"Estimated_DNN Error","t":1.45,"v":0.5},{"s":"Estimated_DNN Error","t":1.46,"v":0.41},{"s":"Estimated_DNN Error","t":1.47,"v":0.01},{"s":"Estimated_DNN Error","t":1.48,"v":0.31}
],
"e": [
{"s":"True SOC","t":0,"v":100},{"s":"True SOC","t":0.1,"v":99.6},{"s":"True SOC","t":0.26,"v":98.7},{"s":"True SOC","t":0.32,"v":97},{"s":"True SOC","t":0.37,"v":95.1},{"s":"True SOC","t":0.42,"v":93.3},{"s":"True SOC","t":0.47,"v":91.6},{"s":"True SOC","t":0.52,"v":89.5},{"s":"True SOC","t":0.55,"v":88},{"s":"True SOC","t":0.58,"v":85},{"s":"True SOC","t":0.61,"v":83.5},{"s":"True SOC","t":0.69,"v":82.6},{"s":"True SOC","t":0.75,"v":81.5},{"s":"True SOC","t":0.8,"v":80.8},{"s":"True SOC","t":0.88,"v":79.5},{"s":"True SOC","t":0.96,"v":78.1},{"s":"True SOC","t":1.04,"v":76.8},{"s":"True SOC","t":1.12,"v":75.4},{"s":"True SOC","t":1.2,"v":74.5},{"s":"True SOC","t":1.28,"v":73.6},{"s":"True SOC","t":1.34,"v":72.8},{"s":"True SOC","t":1.39,"v":71.8},{"s":"True SOC","t":1.45,"v":70},{"s":"True SOC","t":1.5,"v":68.2},{"s":"True SOC","t":1.55,"v":65.5},{"s":"True SOC","t":1.6,"v":62.8},{"s":"True SOC","t":1.66,"v":60},{"s":"True SOC","t":1.71,"v":57.4},{"s":"True SOC","t":1.75,"v":56.3},{"s":"True SOC","t":1.79,"v":55.6},{"s":"True SOC","t":1.86,"v":54.2},{"s":"True SOC","t":1.93,"v":52.9},{"s":"True SOC","t":2.01,"v":51.5},{"s":"True SOC","t":2.09,"v":50.2},{"s":"True SOC","t":2.17,"v":48.8},{"s":"True SOC","t":2.25,"v":47.5},{"s":"True SOC","t":2.36,"v":46.6},{"s":"True SOC","t":2.47,"v":45.7},{"s":"True SOC","t":2.52,"v":45},{"s":"True SOC","t":2.57,"v":43.9},{"s":"True SOC","t":2.63,"v":42.5},{"s":"True SOC","t":2.68,"v":41.2},{"s":"True SOC","t":2.74,"v":38.5},{"s":"True SOC","t":2.79,"v":35.8},{"s":"True SOC","t":2.85,"v":32},{"s":"True SOC","t":2.9,"v":28.6},{"s":"True SOC","t":2.95,"v":27.7},{"s":"True SOC","t":3.0,"v":26.8},{"s":"True SOC","t":3.05,"v":25.5},{"s":"True SOC","t":3.11,"v":23.2},{"s":"True SOC","t":3.19,"v":22.3},{"s":"True SOC","t":3.27,"v":21.4},{"s":"True SOC","t":3.35,"v":20},{"s":"True SOC","t":3.43,"v":18.7},{"s":"True SOC","t":3.49,"v":17.8},{"s":"True SOC","t":3.54,"v":16.9},{"s":"True SOC","t":3.62,"v":16.4},{"s":"True SOC","t":3.7,"v":16},{"s":"True SOC","t":3.78,"v":15.5},{"s":"True SOC","t":3.87,"v":15.1},{"s":"True SOC","t":3.92,"v":14.7},{"s":"True SOC","t":3.97,"v":14.2},{"s":"True SOC","t":4.03,"v":12.4},{"s":"True SOC","t":4.08,"v":10},{"s":"True SOC","t":4.13,"v":7.4},{"s":"True SOC","t":4.2,"v":7.2},{"s":"True SOC","t":4.32,"v":7},
{"s":"Estimated_DNN","t":0,"v":100},{"s":"Estimated_DNN","t":0.1,"v":99.6},{"s":"Estimated_DNN","t":0.26,"v":98.7},{"s":"Estimated_DNN","t":0.37,"v":95.1},{"s":"Estimated_DNN","t":0.47,"v":91.6},{"s":"Estimated_DNN","t":0.55,"v":88},{"s":"Estimated_DNN","t":0.61,"v":82.9},{"s":"Estimated_DNN","t":0.66,"v":82},{"s":"Estimated_DNN","t":0.71,"v":80.8},{"s":"Estimated_DNN","t":0.78,"v":79.8},{"s":"Estimated_DNN","t":0.85,"v":79},{"s":"Estimated_DNN","t":0.9,"v":77.8},{"s":"Estimated_DNN","t":0.96,"v":77.2},{"s":"Estimated_DNN","t":1.04,"v":75.8},{"s":"Estimated_DNN","t":1.12,"v":74.5},{"s":"Estimated_DNN","t":1.2,"v":73.5},{"s":"Estimated_DNN","t":1.28,"v":72.7},{"s":"Estimated_DNN","t":1.34,"v":71.9},{"s":"Estimated_DNN","t":1.39,"v":70.9},{"s":"Estimated_DNN","t":1.45,"v":69.2},{"s":"Estimated_DNN","t":1.5,"v":67.3},{"s":"Estimated_DNN","t":1.55,"v":64.5},{"s":"Estimated_DNN","t":1.6,"v":61.9},{"s":"Estimated_DNN","t":1.66,"v":59},{"s":"Estimated_DNN","t":1.71,"v":56.5},{"s":"Estimated_DNN","t":1.76,"v":55.5},{"s":"Estimated_DNN","t":1.82,"v":54.7},{"s":"Estimated_DNN","t":1.88,"v":53.2},{"s":"Estimated_DNN","t":1.93,"v":52},{"s":"Estimated_DNN","t":2.01,"v":50.6},{"s":"Estimated_DNN","t":2.09,"v":49.3},{"s":"Estimated_DNN","t":2.17,"v":47.9},{"s":"Estimated_DNN","t":2.25,"v":46.6},{"s":"Estimated_DNN","t":2.36,"v":45.7},{"s":"Estimated_DNN","t":2.47,"v":44.8},{"s":"Estimated_DNN","t":2.52,"v":44.2},{"s":"Estimated_DNN","t":2.57,"v":43.4},{"s":"Estimated_DNN","t":2.63,"v":41.8},{"s":"Estimated_DNN","t":2.68,"v":40.3},{"s":"Estimated_DNN","t":2.74,"v":37.6},{"s":"Estimated_DNN","t":2.79,"v":34.9},{"s":"Estimated_DNN","t":2.85,"v":31.5},{"s":"Estimated_DNN","t":2.9,"v":28.6},{"s":"Estimated_DNN","t":2.95,"v":27.5},{"s":"Estimated_DNN","t":3.0,"v":26.5},{"s":"Estimated_DNN","t":3.05,"v":24.7},{"s":"Estimated_DNN","t":3.11,"v":22.3},{"s":"Estimated_DNN","t":3.19,"v":21.4},{"s":"Estimated_DNN","t":3.27,"v":20.5},{"s":"Estimated_DNN","t":3.35,"v":19.2},{"s":"Estimated_DNN","t":3.43,"v":17.8},{"s":"Estimated_DNN","t":3.49,"v":16.9},{"s":"Estimated_DNN","t":3.54,"v":16},{"s":"Estimated_DNN","t":3.62,"v":15.8},{"s":"Estimated_DNN","t":3.7,"v":15.7},{"s":"Estimated_DNN","t":3.78,"v":15.1},{"s":"Estimated_DNN","t":3.87,"v":14.6},{"s":"Estimated_DNN","t":3.92,"v":14.3},{"s":"Estimated_DNN","t":3.97,"v":13.9},{"s":"Estimated_DNN","t":4.03,"v":11.5},{"s":"Estimated_DNN","t":4.08,"v":9.5},{"s":"Estimated_DNN","t":4.13,"v":7.1},{"s":"Estimated_DNN","t":4.2,"v":7.2},{"s":"Estimated_DNN","t":4.32,"v":7},
{"s":"Estimated_EKF","t":0,"v":100},{"s":"Estimated_EKF","t":0.1,"v":99.7},{"s":"Estimated_EKF","t":0.26,"v":99.1},{"s":"Estimated_EKF","t":0.37,"v":95.4},{"s":"Estimated_EKF","t":0.47,"v":91.9},{"s":"Estimated_EKF","t":0.55,"v":88.5},{"s":"Estimated_EKF","t":0.61,"v":85.3},{"s":"Estimated_EKF","t":0.66,"v":85.3},{"s":"Estimated_EKF","t":0.71,"v":84.9},{"s":"Estimated_EKF","t":0.75,"v":83.5},{"s":"Estimated_EKF","t":0.8,"v":82.6},{"s":"Estimated_EKF","t":0.88,"v":81.5},{"s":"Estimated_EKF","t":0.96,"v":80.4},{"s":"Estimated_EKF","t":1.04,"v":79},{"s":"Estimated_EKF","t":1.12,"v":77.5},{"s":"Estimated_EKF","t":1.2,"v":76.4},{"s":"Estimated_EKF","t":1.28,"v":75.4},{"s":"Estimated_EKF","t":1.34,"v":74.9},{"s":"Estimated_EKF","t":1.39,"v":74.5},{"s":"Estimated_EKF","t":1.45,"v":72.8},{"s":"Estimated_EKF","t":1.5,"v":70.9},{"s":"Estimated_EKF","t":1.55,"v":68.2},{"s":"Estimated_EKF","t":1.6,"v":65.5},{"s":"Estimated_EKF","t":1.66,"v":62},{"s":"Estimated_EKF","t":1.71,"v":59.2},{"s":"Estimated_EKF","t":1.77,"v":58.7},{"s":"Estimated_EKF","t":1.85,"v":57.2},{"s":"Estimated_EKF","t":1.93,"v":55.6},{"s":"Estimated_EKF","t":2.01,"v":54.2},{"s":"Estimated_EKF","t":2.09,"v":52.9},{"s":"Estimated_EKF","t":2.17,"v":51.5},{"s":"Estimated_EKF","t":2.25,"v":50.2},{"s":"Estimated_EKF","t":2.36,"v":49.3},{"s":"Estimated_EKF","t":2.47,"v":48.4},{"s":"Estimated_EKF","t":2.52,"v":47.6},{"s":"Estimated_EKF","t":2.57,"v":46.6},{"s":"Estimated_EKF","t":2.63,"v":44.8},{"s":"Estimated_EKF","t":2.68,"v":43},{"s":"Estimated_EKF","t":2.74,"v":40.3},{"s":"Estimated_EKF","t":2.79,"v":37.6},{"s":"Estimated_EKF","t":2.85,"v":33.5},{"s":"Estimated_EKF","t":2.9,"v":29.5},{"s":"Estimated_EKF","t":2.95,"v":28.6},{"s":"Estimated_EKF","t":3.0,"v":27.7},{"s":"Estimated_EKF","t":3.05,"v":26.2},{"s":"Estimated_EKF","t":3.11,"v":24.1},{"s":"Estimated_EKF","t":3.19,"v":23.2},{"s":"Estimated_EKF","t":3.27,"v":22.3},{"s":"Estimated_EKF","t":3.35,"v":21},{"s":"Estimated_EKF","t":3.43,"v":19.6},{"s":"Estimated_EKF","t":3.49,"v":18.5},{"s":"Estimated_EKF","t":3.54,"v":17.5},{"s":"Estimated_EKF","t":3.62,"v":16.9},{"s":"Estimated_EKF","t":3.7,"v":16.4},{"s":"Estimated_EKF","t":3.78,"v":16.2},{"s":"Estimated_EKF","t":3.87,"v":16},{"s":"Estimated_EKF","t":3.92,"v":15.8},{"s":"Estimated_EKF","t":3.97,"v":15.5},{"s":"Estimated_EKF","t":4.05,"v":14.2},{"s":"Estimated_EKF","t":4.09,"v":13},{"s":"Estimated_EKF","t":4.13,"v":11.5},{"s":"Estimated_EKF","t":4.2,"v":11.5},{"s":"Estimated_EKF","t":4.32,"v":11.5}
],
"f": [
{"s":"Estimated_EKF Error","t":0,"v":0.25},{"s":"Estimated_EKF Error","t":0.01,"v":-0.26},{"s":"Estimated_EKF Error","t":0.03,"v":0.05},{"s":"Estimated_EKF Error","t":0.06,"v":-0.03},{"s":"Estimated_EKF Error","t":0.1,"v":-0.1},{"s":"Estimated_EKF Error","t":0.14,"v":-0.2},{"s":"Estimated_EKF Error","t":0.17,"v":-0.26},{"s":"Estimated_EKF Error","t":0.22,"v":-0.38},{"s":"Estimated_EKF Error","t":0.28,"v":-0.45},{"s":"Estimated_EKF Error","t":0.33,"v":-0.4},{"s":"Estimated_EKF Error","t":0.37,"v":-0.15},{"s":"Estimated_EKF Error","t":0.41,"v":0.11},{"s":"Estimated_EKF Error","t":0.44,"v":0.2},{"s":"Estimated_EKF Error","t":0.47,"v":0.3},{"s":"Estimated_EKF Error","t":0.5,"v":0.22},{"s":"Estimated_EKF Error","t":0.52,"v":0.21},{"s":"Estimated_EKF Error","t":0.55,"v":-0.4},{"s":"Estimated_EKF Error","t":0.58,"v":-0.87},{"s":"Estimated_EKF Error","t":0.6,"v":-1.34},{"s":"Estimated_EKF Error","t":0.63,"v":-1.55},{"s":"Estimated_EKF Error","t":0.66,"v":-1.71},{"s":"Estimated_EKF Error","t":0.68,"v":-1.85},{"s":"Estimated_EKF Error","t":0.71,"v":-1.9},{"s":"Estimated_EKF Error","t":0.72,"v":-2.1},{"s":"Estimated_EKF Error","t":0.74,"v":-1.95},{"s":"Estimated_EKF Error","t":0.76,"v":-2.04},{"s":"Estimated_EKF Error","t":0.78,"v":-1.85},{"s":"Estimated_EKF Error","t":0.8,"v":-2.1},{"s":"Estimated_EKF Error","t":0.82,"v":-2.0},{"s":"Estimated_EKF Error","t":0.84,"v":-2.08},{"s":"Estimated_EKF Error","t":0.86,"v":-2.1},{"s":"Estimated_EKF Error","t":0.88,"v":-2.2},{"s":"Estimated_EKF Error","t":0.9,"v":-2.15},{"s":"Estimated_EKF Error","t":0.92,"v":-2.27},{"s":"Estimated_EKF Error","t":0.96,"v":-2.4},{"s":"Estimated_EKF Error","t":1.01,"v":-2.55},{"s":"Estimated_EKF Error","t":1.05,"v":-2.65},{"s":"Estimated_EKF Error","t":1.09,"v":-2.72},{"s":"Estimated_EKF Error","t":1.12,"v":-2.65},{"s":"Estimated_EKF Error","t":1.15,"v":-2.68},{"s":"Estimated_EKF Error","t":1.19,"v":-2.62},{"s":"Estimated_EKF Error","t":1.25,"v":-2.55},{"s":"Estimated_EKF Error","t":1.3,"v":-2.5},{"s":"Estimated_EKF Error","t":1.35,"v":-2.46},{"s":"Estimated_EKF Error","t":1.4,"v":-2.38},{"s":"Estimated_EKF Error","t":1.45,"v":-2.32},{"s":"Estimated_EKF Error","t":1.5,"v":-2.27},{"s":"Estimated_EKF Error","t":1.55,"v":-2.22},{"s":"Estimated_EKF Error","t":1.59,"v":-2.2},{"s":"Estimated_EKF Error","t":1.62,"v":-2.15},{"s":"Estimated_EKF Error","t":1.65,"v":-2.25},{"s":"Estimated_EKF Error","t":1.68,"v":-2.2},{"s":"Estimated_EKF Error","t":1.7,"v":-2.3},{"s":"Estimated_EKF Error","t":1.73,"v":-2.27},{"s":"Estimated_EKF Error","t":1.76,"v":-2.4},{"s":"Estimated_EKF Error","t":1.8,"v":-2.45},{"s":"Estimated_EKF Error","t":1.84,"v":-2.5},{"s":"Estimated_EKF Error","t":1.88,"v":-2.6},{"s":"Estimated_EKF Error","t":1.92,"v":-2.58},{"s":"Estimated_EKF Error","t":1.96,"v":-2.65},{"s":"Estimated_EKF Error","t":2.0,"v":-2.62},{"s":"Estimated_EKF Error","t":2.04,"v":-2.7},{"s":"Estimated_EKF Error","t":2.08,"v":-2.66},{"s":"Estimated_EKF Error","t":2.12,"v":-2.72},{"s":"Estimated_EKF Error","t":2.16,"v":-2.65},{"s":"Estimated_EKF Error","t":2.2,"v":-2.7},{"s":"Estimated_EKF Error","t":2.25,"v":-2.62},{"s":"Estimated_EKF Error","t":2.3,"v":-2.65},{"s":"Estimated_EKF Error","t":2.35,"v":-2.55},{"s":"Estimated_EKF Error","t":2.4,"v":-2.6},{"s":"Estimated_EKF Error","t":2.45,"v":-2.52},{"s":"Estimated_EKF Error","t":2.5,"v":-2.57},{"s":"Estimated_EKF Error","t":2.55,"v":-2.52},{"s":"Estimated_EKF Error","t":2.6,"v":-2.57},{"s":"Estimated_EKF Error","t":2.64,"v":-2.6},{"s":"Estimated_EKF Error","t":2.67,"v":-2.5},{"s":"Estimated_EKF Error","t":2.7,"v":-2.1},{"s":"Estimated_EKF Error","t":2.75,"v":-1.62},{"s":"Estimated_EKF Error","t":2.79,"v":-1.0},{"s":"Estimated_EKF Error","t":2.83,"v":-0.4},{"s":"Estimated_EKF Error","t":2.87,"v":-0.05},{"s":"Estimated_EKF Error","t":2.91,"v":0.16},{"s":"Estimated_EKF Error","t":2.95,"v":0.25},{"s":"Estimated_EKF Error","t":2.99,"v":0.35},{"s":"Estimated_EKF Error","t":3.02,"v":0.25},{"s":"Estimated_EKF Error","t":3.05,"v":0.2},{"s":"Estimated_EKF Error","t":3.08,"v":0.16},{"s":"Estimated_EKF Error","t":3.13,"v":-0.1},{"s":"Estimated_EKF Error","t":3.18,"v":-0.4},{"s":"Estimated_EKF Error","t":3.23,"v":-0.6},{"s":"Estimated_EKF Error","t":3.29,"v":-0.78},{"s":"Estimated_EKF Error","t":3.34,"v":-0.88},{"s":"Estimated_EKF Error","t":3.4,"v":-0.96},{"s":"Estimated_EKF Error","t":3.43,"v":-0.85},{"s":"Estimated_EKF Error","t":3.47,"v":-0.72},{"s":"Estimated_EKF Error","t":3.51,"v":-0.59},{"s":"Estimated_EKF Error","t":3.56,"v":-0.4},{"s":"Estimated_EKF Error","t":3.61,"v":-0.22},{"s":"Estimated_EKF Error","t":3.66,"v":-0.1},{"s":"Estimated_EKF Error","t":3.72,"v":-0.03},{"s":"Estimated_EKF Error","t":3.75,"v":-0.06},{"s":"Estimated_EKF Error","t":3.77,"v":-0.12},{"s":"Estimated_EKF Error","t":3.81,"v":-0.35},{"s":"Estimated_EKF Error","t":3.85,"v":-0.59},{"s":"Estimated_EKF Error","t":3.9,"v":-0.9},{"s":"Estimated_EKF Error","t":3.94,"v":-1.15},{"s":"Estimated_EKF Error","t":3.98,"v":-1.4},{"s":"Estimated_EKF Error","t":4.02,"v":-1.62},{"s":"Estimated_EKF Error","t":4.05,"v":-2.0},{"s":"Estimated_EKF Error","t":4.07,"v":-2.46},{"s":"Estimated_EKF Error","t":4.1,"v":-2.6},{"s":"Estimated_EKF Error","t":4.12,"v":-2.83},{"s":"Estimated_EKF Error","t":4.15,"v":-3.1},{"s":"Estimated_EKF Error","t":4.18,"v":-3.3},{"s":"Estimated_EKF Error","t":4.2,"v":-3.5},{"s":"Estimated_EKF Error","t":4.23,"v":-3.55},{"s":"Estimated_EKF Error","t":4.28,"v":-3.6},{"s":"Estimated_EKF Error","t":4.33,"v":-3.67},
{"s":"Estimated_DNN Error","t":0,"v":0.07},{"s":"Estimated_DNN Error","t":0.03,"v":0.0},{"s":"Estimated_DNN Error","t":0.06,"v":0.02},{"s":"Estimated_DNN Error","t":0.1,"v":-0.05},{"s":"Estimated_DNN Error","t":0.13,"v":0.1},{"s":"Estimated_DNN Error","t":0.17,"v":0.07},{"s":"Estimated_DNN Error","t":0.2,"v":0.0},{"s":"Estimated_DNN Error","t":0.25,"v":0.16},{"s":"Estimated_DNN Error","t":0.29,"v":0.05},{"s":"Estimated_DNN Error","t":0.33,"v":-0.03},{"s":"Estimated_DNN Error","t":0.38,"v":0.0},{"s":"Estimated_DNN Error","t":0.44,"v":0.07},{"s":"Estimated_DNN Error","t":0.48,"v":-0.02},{"s":"Estimated_DNN Error","t":0.52,"v":0.11},{"s":"Estimated_DNN Error","t":0.55,"v":-0.1},{"s":"Estimated_DNN Error","t":0.58,"v":-0.5},{"s":"Estimated_DNN Error","t":0.61,"v":-0.96},{"s":"Estimated_DNN Error","t":0.63,"v":-0.7},{"s":"Estimated_DNN Error","t":0.66,"v":-0.4},{"s":"Estimated_DNN Error","t":0.7,"v":-0.15},{"s":"Estimated_DNN Error","t":0.73,"v":-0.05},{"s":"Estimated_DNN Error","t":0.76,"v":0.07},{"s":"Estimated_DNN Error","t":0.8,"v":0.2},{"s":"Estimated_DNN Error","t":0.84,"v":0.3},{"s":"Estimated_DNN Error","t":0.87,"v":0.44},{"s":"Estimated_DNN Error","t":0.9,"v":0.58},{"s":"Estimated_DNN Error","t":0.93,"v":0.3},{"s":"Estimated_DNN Error","t":0.96,"v":0.15},{"s":"Estimated_DNN Error","t":0.98,"v":0.07},{"s":"Estimated_DNN Error","t":1.02,"v":0.0},{"s":"Estimated_DNN Error","t":1.06,"v":-0.1},{"s":"Estimated_DNN Error","t":1.09,"v":-0.07},{"s":"Estimated_DNN Error","t":1.13,"v":0.05},{"s":"Estimated_DNN Error","t":1.16,"v":0.1},{"s":"Estimated_DNN Error","t":1.19,"v":0.16},{"s":"Estimated_DNN Error","t":1.23,"v":0.22},{"s":"Estimated_DNN Error","t":1.27,"v":0.2},{"s":"Estimated_DNN Error","t":1.31,"v":0.28},{"s":"Estimated_DNN Error","t":1.35,"v":0.3},{"s":"Estimated_DNN Error","t":1.4,"v":0.25},{"s":"Estimated_DNN Error","t":1.44,"v":0.2},{"s":"Estimated_DNN Error","t":1.46,"v":0.16},{"s":"Estimated_DNN Error","t":1.49,"v":0.0},{"s":"Estimated_DNN Error","t":1.52,"v":-0.03},{"s":"Estimated_DNN Error","t":1.55,"v":0.4},{"s":"Estimated_DNN Error","t":1.57,"v":0.53},{"s":"Estimated_DNN Error","t":1.6,"v":0.3},{"s":"Estimated_DNN Error","t":1.63,"v":0.7},{"s":"Estimated_DNN Error","t":1.65,"v":0.81},{"s":"Estimated_DNN Error","t":1.68,"v":0.25},{"s":"Estimated_DNN Error","t":1.71,"v":-0.2},{"s":"Estimated_DNN Error","t":1.73,"v":-0.5},{"s":"Estimated_DNN Error","t":1.76,"v":-0.1},{"s":"Estimated_DNN Error","t":1.78,"v":0.07},{"s":"Estimated_DNN Error","t":1.81,"v":0.5},{"s":"Estimated_DNN Error","t":1.84,"v":1.0},{"s":"Estimated_DNN Error","t":1.86,"v":0.7},{"s":"Estimated_DNN Error","t":1.89,"v":0.44},{"s":"Estimated_DNN Error","t":1.93,"v":0.5},{"s":"Estimated_DNN Error","t":1.97,"v":0.35},{"s":"Estimated_DNN Error","t":2.0,"v":0.1},{"s":"Estimated_DNN Error","t":2.03,"v":-0.22},{"s":"Estimated_DNN Error","t":2.06,"v":0.1},{"s":"Estimated_DNN Error","t":2.08,"v":0.25},{"s":"Estimated_DNN Error","t":2.12,"v":0.35},{"s":"Estimated_DNN Error","t":2.16,"v":0.44},{"s":"Estimated_DNN Error","t":2.2,"v":0.3},{"s":"Estimated_DNN Error","t":2.24,"v":0.16},{"s":"Estimated_DNN Error","t":2.28,"v":0.4},{"s":"Estimated_DNN Error","t":2.32,"v":0.53},{"s":"Estimated_DNN Error","t":2.36,"v":0.35},{"s":"Estimated_DNN Error","t":2.4,"v":0.5},{"s":"Estimated_DNN Error","t":2.43,"v":0.44},{"s":"Estimated_DNN Error","t":2.47,"v":0.3},{"s":"Estimated_DNN Error","t":2.51,"v":0.25},{"s":"Estimated_DNN Error","t":2.55,"v":0.4},{"s":"Estimated_DNN Error","t":2.59,"v":0.07},{"s":"Estimated_DNN Error","t":2.63,"v":0.1},{"s":"Estimated_DNN Error","t":2.67,"v":0.2},{"s":"Estimated_DNN Error","t":2.7,"v":0.16},{"s":"Estimated_DNN Error","t":2.74,"v":0.5},{"s":"Estimated_DNN Error","t":2.78,"v":0.72},{"s":"Estimated_DNN Error","t":2.8,"v":0.3},{"s":"Estimated_DNN Error","t":2.83,"v":-0.12},{"s":"Estimated_DNN Error","t":2.86,"v":-0.3},{"s":"Estimated_DNN Error","t":2.89,"v":-0.59},{"s":"Estimated_DNN Error","t":2.91,"v":-0.2},{"s":"Estimated_DNN Error","t":2.94,"v":0.07},{"s":"Estimated_DNN Error","t":2.96,"v":0.5},{"s":"Estimated_DNN Error","t":2.99,"v":1.14},{"s":"Estimated_DNN Error","t":3.01,"v":0.6},{"s":"Estimated_DNN Error","t":3.05,"v":0.25},{"s":"Estimated_DNN Error","t":3.08,"v":-0.1},{"s":"Estimated_DNN Error","t":3.1,"v":-0.4},{"s":"Estimated_DNN Error","t":3.13,"v":0.0},{"s":"Estimated_DNN Error","t":3.16,"v":0.25},{"s":"Estimated_DNN Error","t":3.19,"v":0.1},{"s":"Estimated_DNN Error","t":3.21,"v":-0.03},{"s":"Estimated_DNN Error","t":3.25,"v":0.05},{"s":"Estimated_DNN Error","t":3.29,"v":0.16},{"s":"Estimated_DNN Error","t":3.33,"v":0.1},{"s":"Estimated_DNN Error","t":3.37,"v":0.2},{"s":"Estimated_DNN Error","t":3.4,"v":0.25},{"s":"Estimated_DNN Error","t":3.43,"v":0.5},{"s":"Estimated_DNN Error","t":3.46,"v":0.8},{"s":"Estimated_DNN Error","t":3.48,"v":0.91},{"s":"Estimated_DNN Error","t":3.52,"v":0.75},{"s":"Estimated_DNN Error","t":3.56,"v":0.81},{"s":"Estimated_DNN Error","t":3.6,"v":0.85},{"s":"Estimated_DNN Error","t":3.64,"v":0.91},{"s":"Estimated_DNN Error","t":3.68,"v":0.7},{"s":"Estimated_DNN Error","t":3.72,"v":0.53},{"s":"Estimated_DNN Error","t":3.76,"v":0.4},{"s":"Estimated_DNN Error","t":3.8,"v":0.35},{"s":"Estimated_DNN Error","t":3.84,"v":0.2},{"s":"Estimated_DNN Error","t":3.88,"v":0.07},{"s":"Estimated_DNN Error","t":3.92,"v":0.05},{"s":"Estimated_DNN Error","t":3.96,"v":-0.03},{"s":"Estimated_DNN Error","t":3.99,"v":-0.15},{"s":"Estimated_DNN Error","t":4.02,"v":-0.22},{"s":"Estimated_DNN Error","t":4.05,"v":-0.3},{"s":"Estimated_DNN Error","t":4.07,"v":-0.12},{"s":"Estimated_DNN Error","t":4.09,"v":0.3},{"s":"Estimated_DNN Error","t":4.12,"v":0.81},{"s":"Estimated_DNN Error","t":4.14,"v":0.6},{"s":"Estimated_DNN Error","t":4.16,"v":0.35},{"s":"Estimated_DNN Error","t":4.18,"v":0.35},{"s":"Estimated_DNN Error","t":4.2,"v":0.25},{"s":"Estimated_DNN Error","t":4.23,"v":0.07},{"s":"Estimated_DNN Error","t":4.26,"v":0.3},{"s":"Estimated_DNN Error","t":4.29,"v":0.3},{"s":"Estimated_DNN Error","t":4.31,"v":0.35}
]
},
"hconcat": [
 {
  "spacing": 14,
  "resolve": {"scale": {"color": "independent"}, "legend": {"color": "independent"}},
  "vconcat": [
   {
    "width": 262, "height": 179,
    "data": {"name": "a"},
    "title": {"text": "(a) SOC Estimation at: 0 DegC", "orient": "bottom", "anchor": "middle", "frame": "group", "offset": 30, "dx": 28, "fontSize": 14.6},
    "mark": {"type": "line"},
    "encoding": {
     "x": {"field": "t", "type": "quantitative", "scale": {"domain": [0, 4], "nice": false, "zero": false}, "axis": {"values": [0, 1, 2, 3, 4], "format": "d", "title": "Time[h]", "labelFontSize": 13.5, "titleFontSize": 16, "labelPadding": 5, "titlePadding": 2}},
     "y": {"field": "v", "type": "quantitative", "scale": {"domain": [2.6, 105.6], "nice": false, "zero": false}, "axis": {"values": [20, 40, 60, 80, 100], "title": "SOC[%]", "labelFontSize": 13.5, "titleFontSize": 17, "labelPadding": 4, "titlePadding": 1}},
     "color": {"field": "s", "type": "nominal", "sort": ["True SOC", "Estimated_DNN", "Estimated_EKF"], "scale": {"domain": ["True SOC", "Estimated_DNN", "Estimated_EKF"], "range": ["#111111", "#ee1c1c", "#127a2c"]}, "legend": {"title": null, "orient": "top-right", "offset": 11, "labelFontSize": 13.3, "symbolType": "M-1,0H3", "symbolSize": 180, "labelOffset": 24.4, "rowPadding": 4}}
    }
   },
   {
    "width": 262, "height": 180,
    "data": {"name": "c"},
    "title": {"text": "(c) SOC Estimation at: 25 DegC", "orient": "bottom", "anchor": "middle", "frame": "group", "offset": 12, "dx": 16, "fontSize": 13},
    "mark": {"type": "line"},
    "encoding": {
     "x": {"field": "t", "type": "quantitative", "scale": {"domain": [0, 1.5], "nice": false, "zero": false}, "axis": {"values": [0, 0.25, 0.5, 0.75, 1, 1.25, 1.5], "format": ".2f", "title": "Time[h]", "labelFontSize": 13.5, "titleFontSize": 16, "labelPadding": 5, "titlePadding": 2}},
     "y": {"field": "v", "type": "quantitative", "scale": {"domain": [67.1, 102.56], "nice": false, "zero": false}, "axis": {"values": [70, 80, 90, 100], "title": "SOC[%]", "labelFontSize": 13.5, "titleFontSize": 17, "labelPadding": 4, "titlePadding": 1}},
     "color": {"field": "s", "type": "nominal", "sort": ["True SOC", "Estimated_DNN", "Estimated_EKF"], "scale": {"domain": ["True SOC", "Estimated_DNN", "Estimated_EKF"], "range": ["#111111", "#ee1c1c", "#127a2c"]}, "legend": {"title": null, "orient": "bottom-left", "offset": 11, "labelFontSize": 13.4, "symbolType": "M-1,0H3", "symbolSize": 182, "labelOffset": 25.5, "rowPadding": 5}}
    }
   },
   {
    "width": 279, "height": 193,
    "data": {"name": "e"},
    "title": {"text": "(e) SOC Estimation at: 40 DegC", "orient": "bottom", "anchor": "middle", "frame": "group", "offset": 4, "dx": -2.5, "fontSize": 14.2},
    "mark": {"type": "line"},
    "encoding": {
     "x": {"field": "t", "type": "quantitative", "scale": {"domain": [0, 4.5], "nice": false, "zero": false}, "axis": {"values": [0, 1, 2, 3, 4], "format": "d", "title": "Time[h]", "labelFontSize": 14.2, "titleFontSize": 17, "labelPadding": 5, "titlePadding": 2}},
     "y": {"field": "v", "type": "quantitative", "scale": {"domain": [2.6, 105.7], "nice": false, "zero": false}, "axis": {"values": [20, 40, 60, 80, 100], "title": "SOC[%]", "labelFontSize": 14, "titleFontSize": 17, "labelPadding": 3, "titlePadding": 1}},
     "color": {"field": "s", "type": "nominal", "sort": ["True SOC", "Estimated_DNN", "Estimated_EKF"], "scale": {"domain": ["True SOC", "Estimated_DNN", "Estimated_EKF"], "range": ["#111111", "#ee1c1c", "#127a2c"]}, "legend": {"title": null, "orient": "top-right", "offset": 13, "labelFontSize": 14.2, "symbolType": "M-1,0H3", "symbolSize": 210, "labelOffset": 26.5, "rowPadding": 5.5}}
    }
   }
  ]
 },
 {
  "spacing": 8,
  "resolve": {"scale": {"color": "independent"}, "legend": {"color": "independent"}},
  "vconcat": [
   {
    "width": 277, "height": 189,
    "data": {"name": "b"},
    "title": {"text": "(b) SOC Error at: 0 DegC", "orient": "bottom", "anchor": "middle", "frame": "group", "offset": 18, "dx": 10.5, "fontSize": 15.9},
    "mark": {"type": "line"},
    "encoding": {
     "x": {"field": "t", "type": "quantitative", "scale": {"domain": [0, 4], "nice": false, "zero": false}, "axis": {"values": [0, 1, 2, 3, 4], "format": "d", "title": "Time[h]", "labelFontSize": 15, "titleFontSize": 17, "labelPadding": 5, "titlePadding": 2}},
     "y": {"field": "v", "type": "quantitative", "scale": {"domain": [-3.03, 24.64], "nice": false, "zero": false}, "axis": {"values": [0, 5, 10, 15, 20], "title": "SOC Error[%]", "labelFontSize": 15, "titleFontSize": 17, "labelPadding": 4, "titlePadding": 5}},
     "color": {"field": "s", "type": "nominal", "sort": ["Estimated_EKF Error", "Estimated_DNN Error"], "scale": {"domain": ["Estimated_EKF Error", "Estimated_DNN Error"], "range": ["#127a2c", "#ee1c1c"]}, "legend": {"title": null, "orient": "top-right", "offset": 12, "labelFontSize": 15, "symbolType": "M-1,0H3", "symbolSize": 240, "labelOffset": 26.5, "rowPadding": 5, "labelLimit": 300}}
    }
   },
   {
    "width": 262, "height": 179,
    "data": {"name": "d"},
    "title": {"text": "(d) SOC Error at: 25 DegC", "orient": "bottom", "anchor": "middle", "frame": "group", "offset": 17, "dx": 20, "fontSize": 14.6},
    "mark": {"type": "line"},
    "encoding": {
     "x": {"field": "t", "type": "quantitative", "scale": {"domain": [0, 1.5], "nice": false, "zero": false}, "axis": {"values": [0, 0.25, 0.5, 0.75, 1, 1.25, 1.5], "format": ".2f", "title": "Time[h]", "labelFontSize": 14.5, "titleFontSize": 16, "labelPadding": 5, "titlePadding": 2}},
     "y": {"field": "v", "type": "quantitative", "scale": {"domain": [-3.9, 1.41], "nice": false, "zero": false}, "axis": {"values": [-3, -2, -1, 0, 1], "title": "SOC Error[%]", "labelFontSize": 14.5, "titleFontSize": 17, "labelPadding": 3, "titlePadding": 4}},
     "color": {"field": "s", "type": "nominal", "sort": ["Estimated_EKF Error", "Estimated_DNN Error"], "scale": {"domain": ["Estimated_EKF Error", "Estimated_DNN Error"], "range": ["#127a2c", "#ee1c1c"]}, "legend": {"title": null, "orient": "bottom-right", "offset": 12, "labelFontSize": 12.8, "symbolType": "M-1,0H3", "symbolSize": 182, "labelOffset": 23.5, "rowPadding": 3, "labelLimit": 300}}
    }
   },
   {
    "width": 278, "height": 191,
    "data": {"name": "f"},
    "title": {"text": "(f) SOC Error at: 40 DegC", "orient": "bottom", "anchor": "middle", "frame": "group", "offset": 12, "dx": -3, "fontSize": 14.6},
    "mark": {"type": "line"},
    "encoding": {
     "x": {"field": "t", "type": "quantitative", "scale": {"domain": [0, 4.5], "nice": false, "zero": false}, "axis": {"values": [0, 1, 2, 3, 4], "format": "d", "title": "Time[h]", "labelFontSize": 15.5, "titleFontSize": 17, "labelPadding": 5, "titlePadding": 2}},
     "y": {"field": "v", "type": "quantitative", "scale": {"domain": [-3.95, 1.41], "nice": false, "zero": false}, "axis": {"values": [-3, -2, -1, 0, 1], "title": "SOC Error[%]", "labelFontSize": 15.5, "titleFontSize": 17, "labelPadding": 3, "titlePadding": 4}},
     "color": {"field": "s", "type": "nominal", "sort": ["Estimated_EKF Error", "Estimated_DNN Error"], "scale": {"domain": ["Estimated_EKF Error", "Estimated_DNN Error"], "range": ["#127a2c", "#ee1c1c"]}, "legend": {"title": null, "orient": "bottom-left", "offset": 10, "labelFontSize": 11.2, "symbolType": "M-1,0H3", "symbolSize": 144, "labelOffset": 20, "rowPadding": 1, "labelLimit": 300}}
    }
   }
  ]
 }
],
"spacing": 34,
"resolve": {"scale": {"color": "independent"}, "legend": {"color": "independent"}}
}
